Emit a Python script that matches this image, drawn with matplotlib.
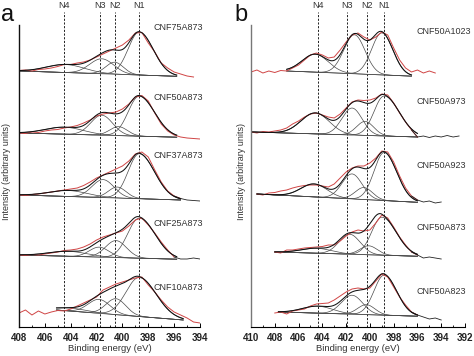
import numpy as np
import matplotlib
matplotlib.use("Agg")
import matplotlib.pyplot as plt
from matplotlib.ticker import MultipleLocator

plt.rcParams['font.family'] = ['Liberation Sans', 'DejaVu Sans']

W, H = 474, 356
fig = plt.figure(figsize=(W / 100, H / 100), dpi=100)

# ---------------- panel a ----------------
a_samples = ["CNF75A873", "CNF50A873", "CNF37A873", "CNF25A873", "CNF10A873"]
a_label_y = [297, 228, 169, 102, 38]
a_line_names = ["N4", "N3", "N2", "N1"]
a_line_pos = [404.5, 401.7, 400.6, 398.7]
a_data_start = [408.0, 408.0, 408.0, 408.0, 408.0]
a_data = [
    [254.5, 255, 254, 255.5, 256, 257, 258.5, 260.5, 260.5, 262, 263, 265, 268, 271,
     274, 277, 280, 285, 292, 292.5, 282, 273, 262, 257, 253, 251, 249, 248],
    [192, 191.5, 193, 192.5, 194, 195, 195.5, 197, 198, 199.5, 202, 205, 209, 211,
     212, 213, 216, 221, 228, 229.5, 224, 212, 201, 194, 190, 188, 187, 186.5, 186],
    [130, 129.5, 130.5, 131, 132, 133, 134, 135, 136, 137, 139.5, 143, 147, 150,
     153, 156, 159, 164, 171, 173, 168, 155, 143, 134, 129, 126.5, 125, 124.5, 124],
    [70, 69.5, 70.5, 70, 71, 72, 73, 74.5, 75, 76, 78, 81, 85, 88,
     90, 92, 94, 99, 105, 107, 100, 92, 83, 75, 68, 66, 66, 67, 66],
    [12, 15, 10, 14, 11, 13, 14.5, 14, 16, 19, 22, 25, 28, 35,
     38, 41, 43, 45, 47, 48, 40, 33, 25, 18, 13, 10, 7, 3, 2],
]
a_base = [(408.0, 254, 395.8, 248.7), (408.0, 192, 395.8, 187.8), (408.0, 130, 395.5, 125),
          (408.0, 70, 395.8, 65.8), (405.1, 15, 395.3, 5)]
a_cen = [[398.7, 400.6, 401.6, 404.4], [398.7, 400.3, 401.6, 404.5], [398.7, 400.4, 401.5, 404.2],
         [398.7, 400.5, 401.8, 404.2], [398.7, 400.5, 401.8, 404.0]]
a_amp = [[43, 12, 15, 8], [40, 9, 20, 7], [45, 11, 18, 6], [40, 17, 10, 5], [39, 16, 14, 3]]
a_fwhm = [[2.0, 1.6, 2.2, 3.5], [2.0, 1.6, 2.0, 3.5], [2.0, 1.6, 2.0, 3.5],
          [2.1, 1.9, 1.8, 3.5], [2.4, 1.8, 2.0, 3.0]]
a_n1_tail = [2.55, 2.8, 2.8, 2.9, 3.1]   # low-BE side FWHM of N1
a_black_tail = [False, False, True, True, False]
a_xticks = [408, 406, 404, 402, 400, 398, 396, 394]

# ---------------- panel b ----------------
b_samples = ["CNF50A1023", "CNF50A973", "CNF50A923", "CNF50A873", "CNF50A823"]
b_label_y = [293, 223, 159, 98, 33]
b_line_names = ["N4", "N3", "N2", "N1"]
b_line_pos = [404.35, 401.9, 400.25, 398.8]
b_data_start = [410.0, 410.0, 409.5, 408.0, 408.0]
b_data = [
    [253, 255, 252, 254, 252.5, 254.5, 254, 257, 260, 265, 270, 272, 270, 267, 268, 275,
     283, 290, 292, 288, 285, 288, 293, 290, 277, 265, 257, 253, 255, 252, 254, 252],
    [193, 192, 193.5, 193, 194, 195, 197, 201, 204, 208, 211, 212, 210, 208, 207, 211, 217, 223,
     225, 224.5, 225, 227, 231, 230, 222, 212, 203, 195, 188, 189, 187.5, 189, 188, 189.5, 188, 189],
    [131, 130, 132, 132.5, 134, 135, 137, 138.5, 139.5, 140, 140, 139, 138, 141, 147, 153,
     157, 159, 159, 162, 167, 174, 173, 163, 149, 137, 129, 125, 123, 124, 122, 123],
    [73, 72, 75, 75, 76, 77, 77.5, 78, 78.5, 80, 80, 84, 89, 93, 95,
     94, 95, 102, 110, 107, 98, 88, 80, 73, 70, 67, 68, 67, 66],
    [12, 13, 11, 14, 15, 16, 19, 21, 21.5, 22, 25, 29, 33, 36, 37,
     36, 37, 44, 51, 48, 38, 28, 20, 13, 10, 8, 6, 7, 5],
]
b_base = [(407.0, 254, 396.5, 248.85), (410.0, 193, 396.0, 188), (409.5, 131, 396.0, 122.7),
          (408.0, 73, 396.0, 68.75), (407.7, 13, 396.0, 8.8)]
b_cen = [[399.0, 401.3, 404.6], [398.8, 400.4, 401.5, 404.6], [398.8, 400.5, 401.5, 404.7],
         [399.0, 400.1, 401.7, 404.5], [398.8, 400.3, 401.5, 404.4]]
b_amp = [[42, 39, 18], [40, 14, 27, 21], [48, 12, 25, 13], [38, 9, 20, 5], [40, 10, 19, 7]]
b_fwhm = [[2.0, 2.1, 2.6], [2.0, 1.7, 2.0, 2.8], [2.0, 1.7, 2.0, 2.6],
          [2.0, 1.7, 2.1, 3.0], [2.0, 1.7, 2.1, 3.0]]
b_n1_tail = [2.2, 3.0, 2.5, 2.9, 2.5]
b_black_tail = [False, True, True, True, True]
b_xticks = [410, 408, 406, 404, 402, 400, 398, 396, 394, 392]

RED = "#d04545"
GREY = "#4a4a4a"
STEP = 0.5


def peak(x, c, h, w_hi, w_lo):
    w = np.where(x >= c, w_hi, w_lo)
    return h * np.exp(-4 * np.log(2) * ((x - c) / w) ** 2)


def draw_panel(ax, xlim, xticks, samples, label_y, label_x,
               names, pos, starts, data, base, cen, amp, fwhm, tail, black_tail,
               spine_color):
    ax.set_xlim(*xlim)
    ax.set_ylim(-2, 313)
    for s in ["top", "right"]:
        ax.spines[s].set_visible(False)
    ax.spines["left"].set_bounds(-2, 300)
    ax.spines["left"].set_color(spine_color)
    ax.spines["left"].set_linewidth(1.0)
    ax.spines["bottom"].set_linewidth(0.8)
    ax.set_yticks([])
    ax.set_xticks(xticks)
    ax.xaxis.set_minor_locator(MultipleLocator(1))
    ax.tick_params(axis="x", which="major", direction="in", length=3, width=0.7,
                   pad=4, labelsize=7)
    ax.tick_params(axis="x", which="minor", direction="in", length=1.8, width=0.6)
    for lab in ax.get_xticklabels():
        lab.set_fontweight("bold")
        lab.set_color("#222222")

    for n, p in zip(names, pos):
        ax.plot([p, p], [-2, 313], color="#222222", lw=0.7, ls=(0, (2.2, 1.6)))
        ax.text(p, 320, n, ha="center", va="center", fontsize=6.5, color="#333333")

    for i in range(len(samples)):
        y = np.array(data[i])
        x = starts[i] - STEP * np.arange(len(y))
        eL, hL, eR, hR = base[i]
        xf = np.linspace(eL, eR, 300)
        bl = hL + (hR - hL) * (xf - eL) / (eR - eL)
        total = bl.copy()
        for k, (c, h, w) in enumerate(zip(cen[i], amp[i], fwhm[i])):
            w_lo = tail[i] if k == 0 else w
            g = peak(xf, c, h, w, w_lo)
            total += g
            ax.plot(xf, bl + g, color=GREY, lw=0.5)
        ax.plot(xf, bl, color=GREY, lw=0.5)
        if black_tail[i]:
            m = x >= eR
            ax.plot(x[m], y[m], color=RED, lw=0.7)
            m2 = x <= eR + STEP
            ax.plot(x[m2], y[m2], color="#222222", lw=0.6)
        else:
            ax.plot(x, y, color=RED, lw=0.7)
        ax.plot(xf, total, color="#111111", lw=0.75)
        ax.text(label_x, label_y[i], samples[i], ha="left", va="center",
                fontsize=6.5, color="#333333")


ax_a = fig.add_axes([19 / W, 1 - 327 / H, 181 / W, 315 / H])
draw_panel(ax_a, (408, 394), a_xticks, a_samples, a_label_y, 397.6,
           a_line_names, a_line_pos, a_data_start, a_data, a_base, a_cen, a_amp, a_fwhm,
           a_n1_tail, a_black_tail, "#111111")
ax_a.set_xlabel("Binding energy (eV)", fontsize=6.8, color="#333333", labelpad=1)

ax_b = fig.add_axes([251 / W, 1 - 327 / H, 214 / W, 315 / H])
draw_panel(ax_b, (410, 392), b_xticks, b_samples, b_label_y, 396.1,
           b_line_names, b_line_pos, b_data_start, b_data, b_base, b_cen, b_amp, b_fwhm,
           b_n1_tail, b_black_tail, "#777777")
ax_b.set_xlabel("Binding energy (eV)", fontsize=6.8, color="#333333", labelpad=1)

fig.text(7 / W, 1 - 171 / H, "Intensity (arbitrary units)", rotation=90,
         ha="center", va="center", fontsize=6.5, color="#333333")
fig.text(241 / W, 1 - 171 / H, "Intensity (arbitrary units)", rotation=90,
         ha="center", va="center", fontsize=6.5, color="#333333")
fig.text(8 / W, 1 - 15 / H, "a", ha="center", va="center", fontsize=17, color="#111111")
fig.text(241 / W, 1 - 15 / H, "b", ha="center", va="center", fontsize=17, color="#111111")

fig.savefig("out.png", dpi=100)
